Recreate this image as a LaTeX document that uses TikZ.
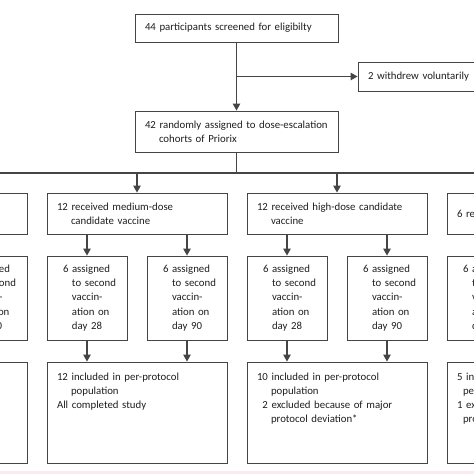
\documentclass[tikz,border=0pt]{standalone}
\usepackage{fontspec}
\setmainfont{Carlito}
\usetikzlibrary{arrows.meta}
\definecolor{linegray}{HTML}{454545}
\definecolor{textgray}{HTML}{1E1E1E}
\definecolor{bandpink}{HTML}{FBEAF0}
\newcommand{\ind}{\hspace*{14pt}}
\newcommand{\subind}{\hspace*{9pt}}

\begin{document}
\begin{tikzpicture}[x=1pt, y=-1pt,
  every node/.style={font=\fontsize{10.8}{14.3}\selectfont, text=textgray,
    execute at begin node={\hyphenpenalty=10000\exhyphenpenalty=10000}},
  box/.style={draw=linegray, line width=0.9pt, align=left, inner xsep=10pt, inner ysep=0pt},
  widebox/.style={box, minimum width=203pt, text width=183pt},
  groupbox/.style={box, minimum width=180pt, minimum height=41pt, text width=160pt},
  armbox/.style={box, minimum width=80pt, minimum height=84pt, text width=48pt, inner xsep=16pt},
  ppbox/.style={box, minimum width=180pt, text width=160pt, inner ysep=10pt, text height=8pt, text depth=73pt},
  link/.style={draw=linegray, line width=1.2pt},
  arr/.style={link, -{Triangle[width=7.5pt,length=7pt]}}]
  \useasboundingbox (0,0) rectangle (474,474);
  \clip (0,0) rectangle (474,474);
  \fill[bandpink] (0,471) rectangle (474,474);

  % screening and randomisation
  \node[widebox, minimum height=28pt] (screen) at (236.5,28) {44 participants screened for eligibilty};
  \node[box, minimum width=124pt, minimum height=29pt, text width=104pt] (withdrew) at (420,76.5) {2 withdrew voluntarily};
  \node[widebox, minimum height=41pt] (random) at (236.5,131.5) {42 randomly assigned to dose-escalation\\\ind cohorts of Priorix};
  \coordinate (split) at (236.5,173);

  % dose cohorts
  \node[groupbox] (lowdose) at (-63,213.5) {};
  \node[groupbox] (middose) at (137,213.5) {12 received medium-dose\\\ind candidate vaccine};
  \node[groupbox] (highdose) at (337,213.5) {12 received high-dose candidate\\\ind vaccine};
  \node[groupbox] (nextdose) at (537,213.5) {6 received};

  % second vaccination arms
  \node[armbox] (low28) at (-113,298) {};
  \node[armbox] (low90) at (-13,298) {6~assigned\\\subind to~second\\\subind vaccin-\\\subind ation~on\\\subind day~90};
  \node[armbox] (mid28) at (87,298) {6~assigned\\\subind to~second\\\subind vaccin-\\\subind ation~on\\\subind day~28};
  \node[armbox] (mid90) at (187,298) {6~assigned\\\subind to~second\\\subind vaccin-\\\subind ation~on\\\subind day~90};
  \node[armbox] (high28) at (287,298) {6~assigned\\\subind to~second\\\subind vaccin-\\\subind ation~on\\\subind day~28};
  \node[armbox] (high90) at (387,298) {6~assigned\\\subind to~second\\\subind vaccin-\\\subind ation~on\\\subind day~90};
  \node[armbox] (next28) at (487,298) {6~assigned\\\subind to~second\\\subind vaccin-\\\subind ation~on\\\subind day~28};
  \node[armbox] (next90) at (587,298) {};

  % per-protocol populations
  \node[ppbox] (lowpp) at (-63,412.5) {};
  \node[ppbox] (midpp) at (137,412.5) {12 included in per-protocol\\\ind population\\All completed study};
  \node[ppbox] (highpp) at (337,412.5) {10 included in per-protocol\\\ind population\\\phantom{1}2 excluded because of major\\\ind protocol deviation*};
  \node[ppbox] (nextpp) at (537,412.5) {5 included in\\\hspace*{6pt}per-protocol\\1 excluded\\\hspace*{6pt}protocol};

  \path (screen) edge[arr] (random)
    (screen.south |- withdrew.west) edge[arr] (withdrew.west);
  \draw[link] (random) -- (split);
  \draw[link] (split -| lowdose) -- (split -| nextdose);
  \path (split -| lowdose) edge[arr] (lowdose) (split -| middose) edge[arr] (middose)
    (split -| highdose) edge[arr] (highdose) (split -| nextdose) edge[arr] (nextdose);
  \path (lowdose.south -| low28) edge[arr] (low28) (lowdose.south -| low90) edge[arr] (low90)
    (middose.south -| mid28) edge[arr] (mid28) (middose.south -| mid90) edge[arr] (mid90)
    (highdose.south -| high28) edge[arr] (high28) (highdose.south -| high90) edge[arr] (high90)
    (nextdose.south -| next28) edge[arr] (next28) (nextdose.south -| next90) edge[arr] (next90);
  \path (low28) edge[arr] (low28 |- lowpp.north) (low90) edge[arr] (low90 |- lowpp.north)
    (mid28) edge[arr] (mid28 |- midpp.north) (mid90) edge[arr] (mid90 |- midpp.north)
    (high28) edge[arr] (high28 |- highpp.north) (high90) edge[arr] (high90 |- highpp.north)
    (next28) edge[arr] (next28 |- nextpp.north) (next90) edge[arr] (next90 |- nextpp.north);
\end{tikzpicture}
\end{document}
